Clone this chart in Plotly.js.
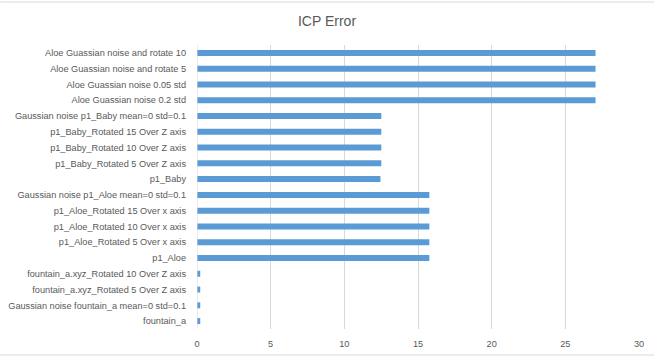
<!DOCTYPE html>
<html>
<head>
<meta charset="utf-8">
<script src="https://cdn.plot.ly/plotly-3.0.1.min.js"></script>
<style>html,body{margin:0;padding:0;background:#fff;}#chart{width:654px;height:357px;}</style>
</head>
<body>
<div id="chart"></div>
<script>
const categories = [
  "fountain_a",
  "Gaussian noise fountain_a mean=0 std=0.1",
  "fountain_a.xyz_Rotated 5 Over Z axis",
  "fountain_a.xyz_Rotated 10 Over Z axis",
  "p1_Aloe",
  "p1_Aloe_Rotated 5 Over x axis",
  "p1_Aloe_Rotated 10 Over x axis",
  "p1_Aloe_Rotated 15 Over x axis",
  "Gaussian noise p1_Aloe mean=0 std=0.1",
  "p1_Baby",
  "p1_Baby_Rotated 5 Over Z axis",
  "p1_Baby_Rotated 10 Over Z axis",
  "p1_Baby_Rotated 15 Over Z axis",
  "Gaussian noise p1_Baby mean=0 std=0.1",
  "Aloe Guassian noise 0.2 std",
  "Aloe Guassian noise 0.05 std",
  "Aloe Guassian noise and rotate 5",
  "Aloe Guassian noise and rotate 10"
];
const icpError = [0.22, 0.22, 0.22, 0.22, 15.77, 15.77, 15.77, 15.77, 15.77, 12.45, 12.51, 12.51, 12.51, 12.51, 27.05, 27.05, 27.05, 27.05];
const xTicks = [0, 5, 10, 15, 20, 25, 30];

const W = 442, H = 284, L = 196.7, T = 45;
const px = x => (x - L) / W;
const py = y => 1 - (y - T) / H;

Plotly.newPlot('chart', [{
  type: 'bar',
  orientation: 'h',
  y: categories,
  x: icpError,
  marker: {color: '#5B9BD5'},
  hoverinfo: 'x+y'
}], {
  width: 654, height: 357,
  margin: {l: 196.7, r: 15.3, t: 45, b: 28},
  paper_bgcolor: '#fff', plot_bgcolor: '#fff',
  bargap: 0.62,
  title: {text: 'ICP Error', x: 0.5, xanchor: 'center', y: 1 - 21/357, yanchor: 'middle',
          font: {family: 'Liberation Sans, Arial, sans-serif', size: 14, color: '#595959'}},
  font: {family: 'Liberation Sans, Arial, sans-serif', size: 9.2, color: '#595959'},
  xaxis: {range: [0, 30], tickvals: xTicks, ticktext: xTicks.map(String),
          showgrid: true, gridcolor: '#d9d9d9', gridwidth: 1, zeroline: false,
          showline: false, ticks: '', ticklabelstandoff: 8, fixedrange: true,
          tickfont: {size: 9.2, color: '#595959'}},
  yaxis: {type: 'category', categoryorder: 'array', categoryarray: categories,
          showgrid: false, zeroline: false, showline: false, ticks: '',
          ticklabelstandoff: 10, automargin: false, fixedrange: true,
          tickfont: {size: 9.2, color: '#595959'}},
  shapes: [
    {type: 'line', xref: 'x', yref: 'paper', x0: 0, x1: 0, y0: 0, y1: 1, line: {color: '#d9d9d9', width: 1}},
    {type: 'line', xref: 'paper', yref: 'paper', x0: px(0), x1: px(654), y0: py(2), y1: py(2), line: {color: '#d9d9d9', width: 1}},
    {type: 'line', xref: 'paper', yref: 'paper', x0: px(0), x1: px(654), y0: py(355), y1: py(355), line: {color: '#d9d9d9', width: 1}}
  ],
  showlegend: false
}, {displayModeBar: false, staticPlot: true});
</script>
</body>
</html>
